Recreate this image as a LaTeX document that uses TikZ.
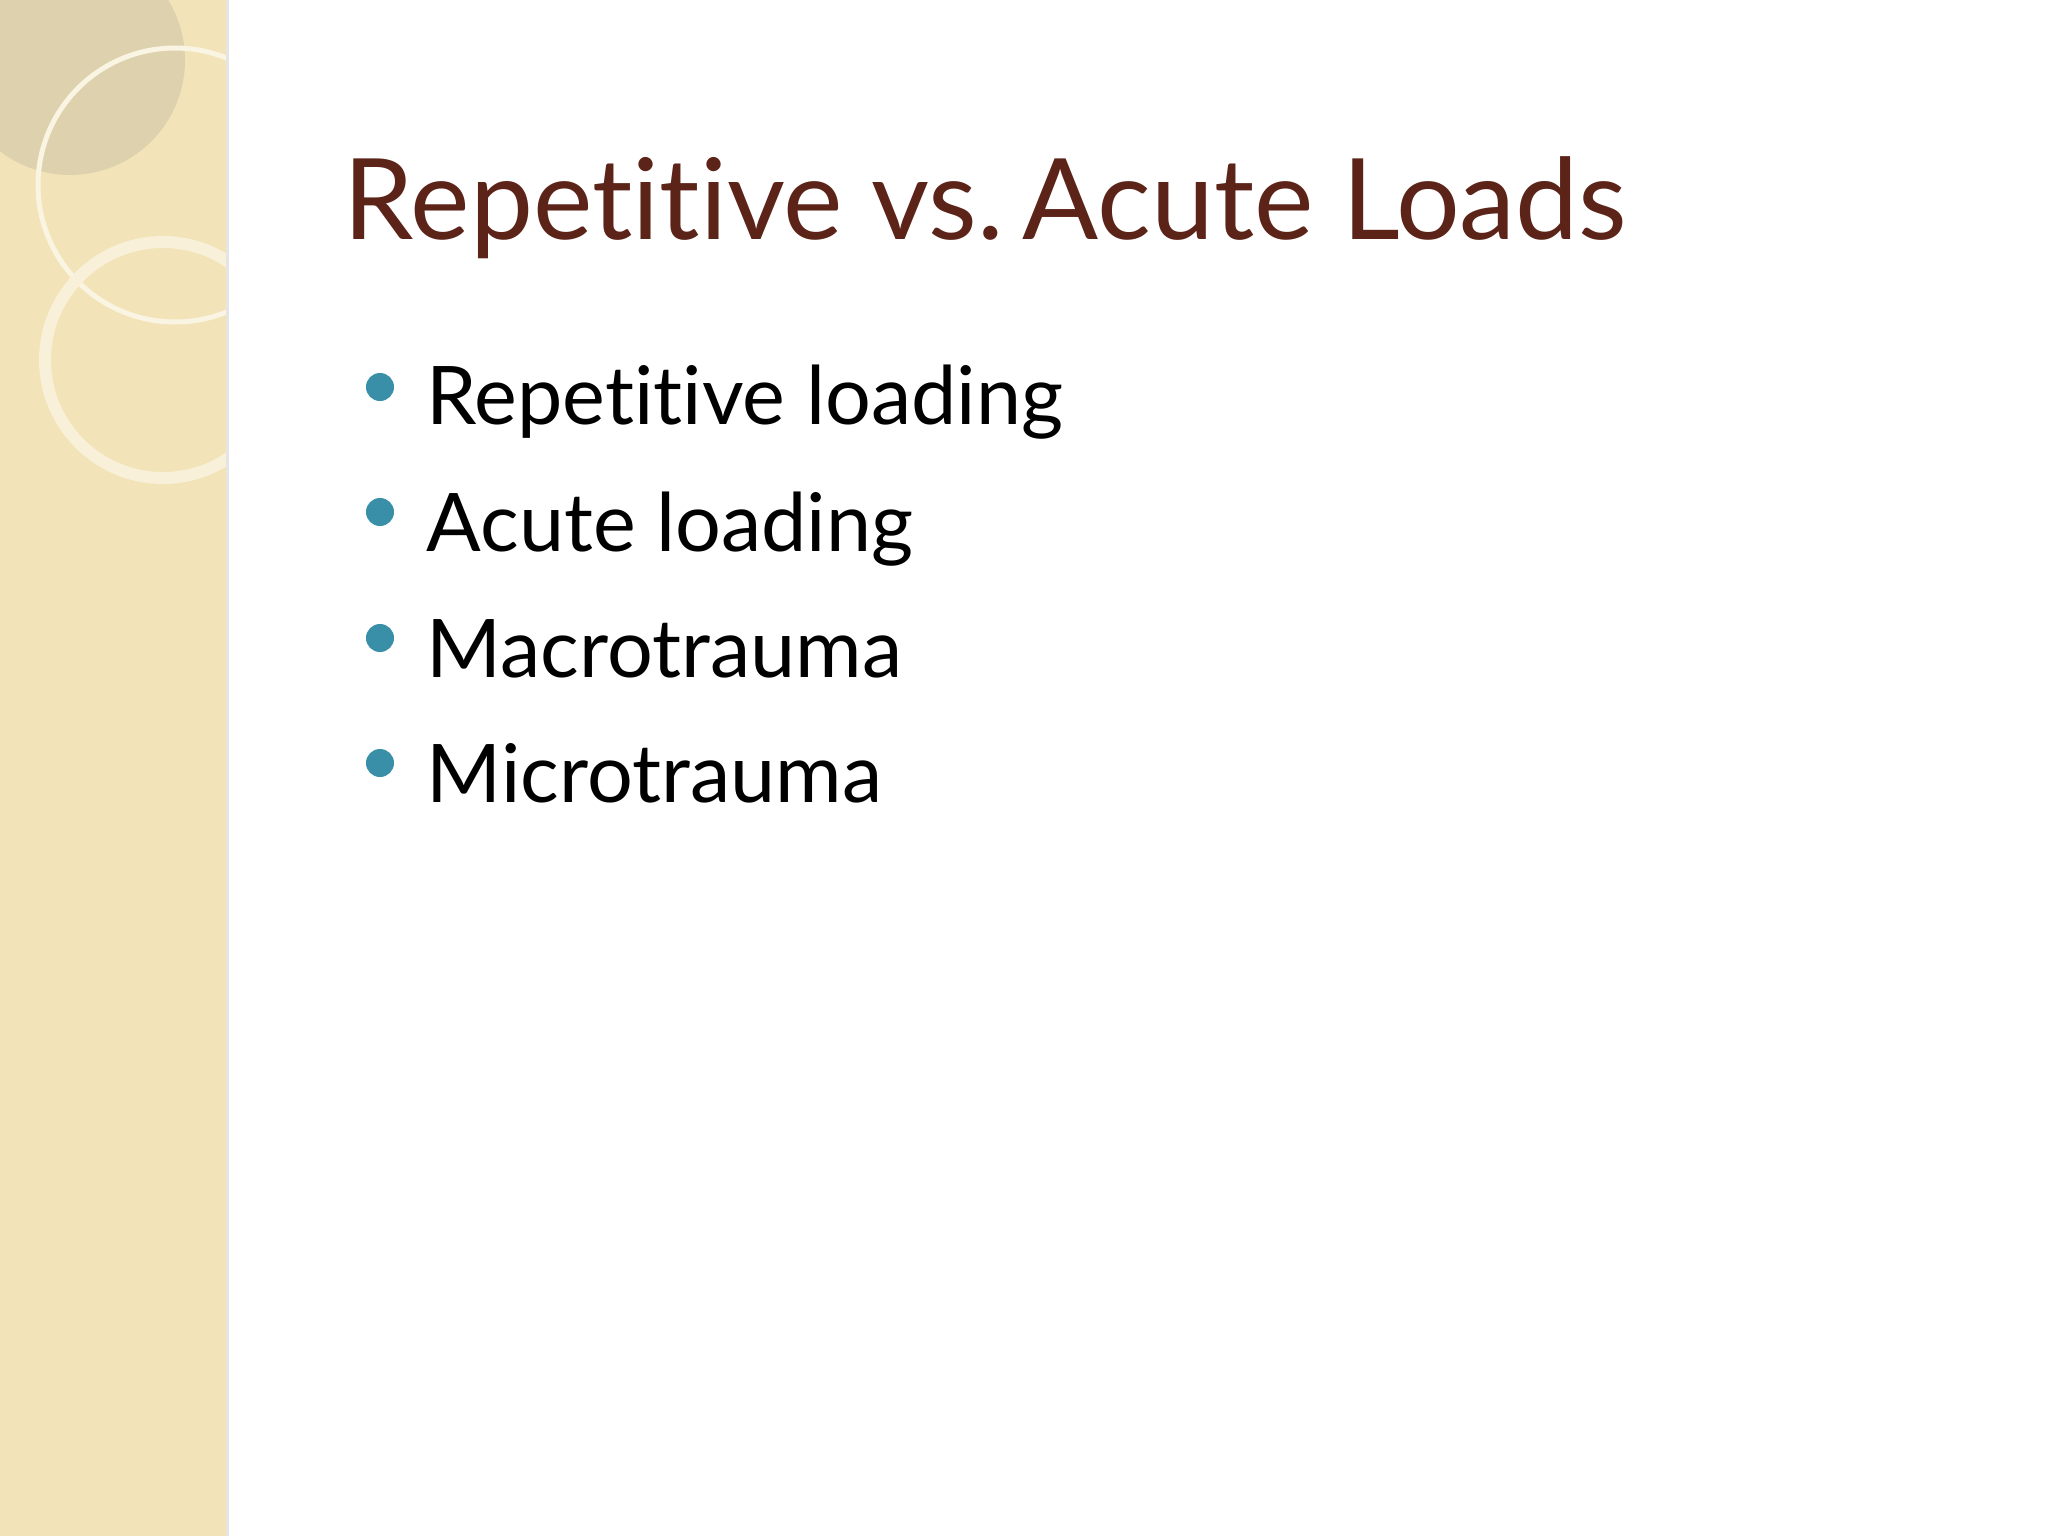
\documentclass[tikz,border=0pt]{standalone}
\usepackage{fontspec}
\setmainfont[Ligatures={NoCommon}]{Lato}
\begin{document}
\begin{tikzpicture}[x=0.01cm,y=-0.01cm,
  bullettext/.style={anchor=base west,inner sep=0,font=\fontsize{23}{26}\selectfont},
  dot/.style={circle,fill=bulletc,inner sep=0,minimum size=0.28cm}]
\definecolor{panel}{HTML}{F2E3B8}
\definecolor{titlec}{HTML}{5C2418}
\definecolor{bulletc}{HTML}{3A8FA8}
\useasboundingbox (0,0) rectangle (2048,1536);
\fill[white] (0,0) rectangle (2048,1536);
\begin{scope}
\clip (0,0) rectangle (226,1536);
\fill[panel] (0,0) rectangle (226,1536);
\fill[gray!18!panel] (70,60) circle (115);
\draw[line width=0.05cm, white!60!panel] (175,185) circle (137);
\draw[line width=0.12cm, white!45!panel] (163,360) circle (118);
\end{scope}
\fill[gray!20] (226,0) rectangle (229,1536);
\node[anchor=base west,inner sep=0,text=titlec,font=\fontsize{32}{36}\selectfont] (title) at (343,239) {Repetitive vs.\,Acute Loads};
\node[dot] (d1) at (380,387) {};
\node[bullettext] (b1) at (426,424) {Repetitive loading};
\node[dot] (d2) at (380,512) {};
\node[bullettext] (b2) at (426,551) {Acute loading};
\node[dot] (d3) at (380,638) {};
\node[bullettext] (b3) at (426,677) {Macrotrauma};
\node[dot] (d4) at (380,763) {};
\node[bullettext] (b4) at (426,802) {Microtrauma};
\end{tikzpicture}
\end{document}
